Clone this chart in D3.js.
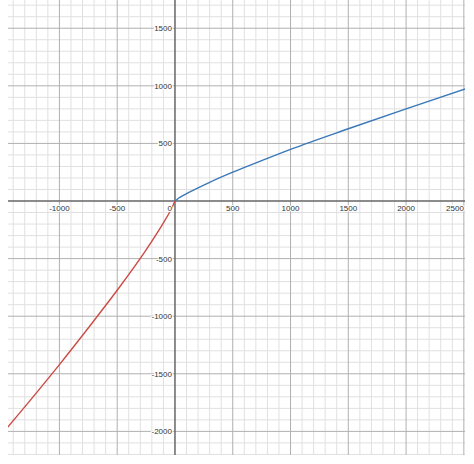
<!DOCTYPE html>
<html lang="en">
<head>
<meta charset="UTF-8">
<title>Graph</title>
<script src="https://cdn.jsdelivr.net/npm/d3@7"></script>
<style>
  body { margin: 0; background: #fff; }
  text { font-family: "Liberation Sans", Arial, sans-serif; font-size: 8px; fill: #333; }
</style>
</head>
<body>
<div id="container"></div>
<script>
const blueX = [0, 25, 50, 100, 200, 300, 500, 750, 1000, 1500, 2000, 2550];
const blueY = [0, 20, 36, 64, 114, 162, 250, 350, 448, 627, 800, 985];
const redX = [0, -25, -50, -100, -260, -500, -710, -1000, -1445, -1500];
const redY = [0, -56, -104, -190, -440, -775, -1050, -1420, -1960, -2025];
const xTicks = [-1000, -500, 0, 500, 1000, 1500, 2000, 2500];
const yTicks = [-2000, -1500, -1000, -500, 500, 1000, 1500];

const W = 474, H = 464;
const box = {left: 8, right: 465, top: 0, bottom: 455};

const x = d3.scaleLinear().domain([-1445, 2510]).range([box.left, box.right]);
const y = d3.scaleLinear().domain([-2205, 1745]).range([box.bottom, box.top]);

const svg = d3.select("#container").append("svg")
  .attr("width", W).attr("height", H);

svg.append("clipPath").attr("id", "clip")
  .append("rect")
  .attr("x", box.left).attr("y", box.top)
  .attr("width", box.right - box.left).attr("height", box.bottom - box.top);

const g = svg.append("g").attr("clip-path", "url(#clip)");

// minor grid every 100
const minorX = d3.range(-1400, 2600, 100).filter(v => v % 500 != 0);
const minorY = d3.range(-2200, 1800, 100).filter(v => v % 500 != 0);
g.selectAll("line.mx").data(minorX).enter().append("line")
  .attr("x1", d => x(d)).attr("x2", d => x(d))
  .attr("y1", box.top).attr("y2", box.bottom)
  .attr("stroke", "#e0e0e0").attr("stroke-width", 1);
g.selectAll("line.my").data(minorY).enter().append("line")
  .attr("y1", d => y(d)).attr("y2", d => y(d))
  .attr("x1", box.left).attr("x2", box.right)
  .attr("stroke", "#e0e0e0").attr("stroke-width", 1);

// major grid every 500
const majorX = d3.range(-1000, 2600, 500).filter(v => v != 0);
const majorY = d3.range(-2000, 1800, 500).filter(v => v != 0);
g.selectAll("line.Mx").data(majorX).enter().append("line")
  .attr("x1", d => x(d)).attr("x2", d => x(d))
  .attr("y1", box.top).attr("y2", box.bottom)
  .attr("stroke", "#b0b0b0").attr("stroke-width", 1);
g.selectAll("line.My").data(majorY).enter().append("line")
  .attr("y1", d => y(d)).attr("y2", d => y(d))
  .attr("x1", box.left).attr("x2", box.right)
  .attr("stroke", "#b0b0b0").attr("stroke-width", 1);

// axes
g.append("line")
  .attr("x1", box.left).attr("x2", box.right)
  .attr("y1", y(0)).attr("y2", y(0))
  .attr("stroke", "#666").attr("stroke-width", 1.5);
g.append("line")
  .attr("x1", x(0)).attr("x2", x(0))
  .attr("y1", box.top).attr("y2", box.bottom)
  .attr("stroke", "#666").attr("stroke-width", 1.5);

// curves
const line = d3.line().x(d => x(d[0])).y(d => y(d[1])).curve(d3.curveMonotoneX);
const blue = blueX.map((v, i) => [v, blueY[i]]);
const red = redX.map((v, i) => [v, redY[i]]).reverse();

g.append("path").datum(red)
  .attr("d", line).attr("fill", "none")
  .attr("stroke", "#cc4b45").attr("stroke-width", 1.4);
g.append("path").datum(blue)
  .attr("d", line).attr("fill", "none")
  .attr("stroke", "#3a78b8").attr("stroke-width", 1.4);

// tick labels
svg.selectAll("text.xl").data(xTicks).enter().append("text")
  .attr("x", d => d == 0 ? x(0) - 3 : Math.min(x(d), box.right - 10))
  .attr("y", y(0) + 10)
  .attr("text-anchor", d => d == 0 ? "end" : "middle")
  .attr("stroke", "#fff").attr("stroke-width", 2).attr("paint-order", "stroke")
  .text(d => d);

svg.selectAll("text.yl").data(yTicks).enter().append("text")
  .attr("x", x(0) - 3)
  .attr("y", d => y(d) + 3)
  .attr("text-anchor", "end")
  .attr("stroke", "#fff").attr("stroke-width", 2).attr("paint-order", "stroke")
  .text(d => d);
</script>
</body>
</html>
